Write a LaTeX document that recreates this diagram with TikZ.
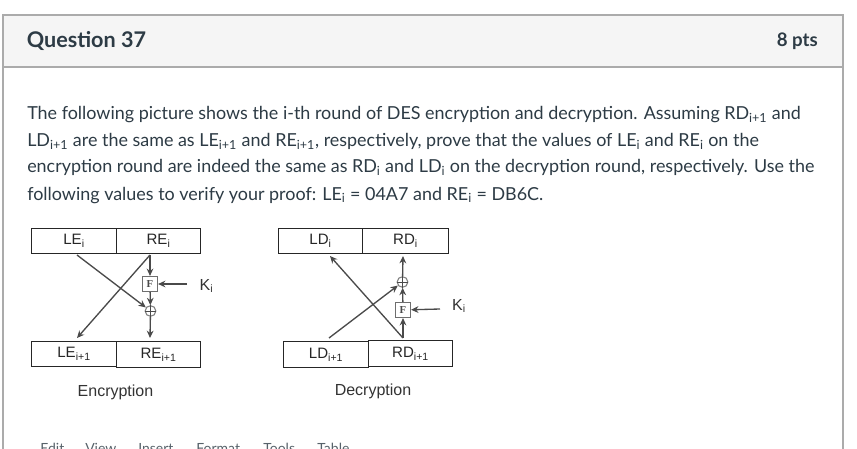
\documentclass[tikz,border=0pt]{standalone}
\usepackage{fontspec}
\setmainfont{Lato}
\newfontfamily\arialf{Liberation Sans}
\newfontfamily\timesf{Liberation Serif}
\usetikzlibrary{arrows.meta}
\definecolor{ink}{HTML}{2D3B45}
\definecolor{hdr}{HTML}{F5F5F5}
\definecolor{frm}{HTML}{ABABAB}
\definecolor{dia}{HTML}{4A4A4A}
\newcommand{\sbs}[1]{\textsubscript{#1}}
\tikzset{
  x=0.75pt,y=-0.75pt,
  body/.style={anchor=base west,inner sep=0pt,text=ink,font=\fontsize{13.45pt}{16pt}\selectfont},
  cell/.style={draw=black!85,line width=0.85pt,inner sep=0pt,anchor=north west,text=black!85,font=\arialf\fontsize{11.3pt}{13pt}\selectfont},
  captext/.style={inner sep=0pt,text=black!80,font=\arialf\fontsize{12pt}{14pt}\selectfont},
  fbox/.style={draw=dia!80,fill=white,line width=1.1pt,minimum size=11pt,inner sep=0pt,font=\timesf\bfseries\fontsize{8pt}{9pt}\selectfont,text=dia},
  xorn/.style={circle,draw=dia!70,fill=white,line width=0.8pt,minimum size=8pt,inner sep=0pt},
  conn/.style={draw=dia,line width=1pt,-{Stealth[length=5.5pt,width=5pt]}}
}
\newcommand{\xcell}[6]{\node[cell,minimum width=#4*0.75pt,minimum height=#5*0.75pt] (#1) at (#2,#3) {#6};}
\begin{document}
\begin{tikzpicture}
\useasboundingbox (0,0) rectangle (857,449);
\clip (0,0) rectangle (857,449);
\fill[white] (0,0) rectangle (857,449);
\fill[hdr] (3,15) rectangle (843,67);
\draw[frm,line width=0.8pt] (3,449) -- (3,15) -- (843,15) -- (843,449);
\draw[frm,line width=0.8pt] (3,67) -- (843,67);
\node[anchor=base west,inner sep=0pt,text=ink,font=\bfseries\fontsize{16.2pt}{20pt}\selectfont] (title) at (26.5,48) {Question 37};
\node[anchor=base east,inner sep=0pt,text=ink,font=\bfseries\fontsize{14pt}{16pt}\selectfont] (pts) at (818,47) {8 pts};
\node[body] (l1) at (27,119.5) {The following picture shows the i-th round of DES encryption and decryption. Assuming RD\sbs{i+1} and};
\node[body] (l2) at (27,146.5) {LD\sbs{i+1} are the same as LE\sbs{i+1} and RE\sbs{i+1}, respectively, prove that the values of LE\sbs{i} and RE\sbs{i} on the};
\node[body] (l3) at (27,173) {encryption round are indeed the same as RD\sbs{i} and LD\sbs{i} on the decryption round, respectively. Use the};
\node[body] (l4) at (27,200) {following values to verify your proof: LE\sbs{i} = 04A7 and RE\sbs{i} = DB6C.};
% Encryption
\xcell{le}{31}{228}{85}{25}{LE\sbs{i}}
\xcell{re}{116}{228}{84}{25}{RE\sbs{i}}
\xcell{lea}{31}{341}{85}{25}{LE\sbs{i+1}}
\xcell{rea}{116}{341}{84}{26}{RE\sbs{i+1}}
\node[fbox] (fe) at (150,284) {F};
\node[xorn] (xe) at (150.5,311) {};
\draw[line width=0.5pt,draw=dia] (xe.north) -- (xe.south) (xe.west) -- (xe.east);
\coordinate (es) at (150,255);
\coordinate (el) at (77,255);
\coordinate (er) at (150,338);
\coordinate (ell) at (77,338);
\coordinate (ek) at (187,284);
\draw[conn] (es) -- (fe);
\draw[conn] (fe) -- (xe);
\draw[conn] (xe) -- (er);
\draw[conn] (el) -- (xe);
\draw[conn] (es) -- (ell);
\draw[conn] (ek) -- (fe);
\node[captext] (ke) at (206.5,286) {K\sbs{i}};
\node[captext] (ce) at (115.5,392) {Encryption};
% Decryption
\xcell{ld}{278}{228}{84}{25}{LD\sbs{i}}
\xcell{rd}{362}{228}{86}{25}{RD\sbs{i}}
\xcell{lda}{283}{341}{85}{26}{LD\sbs{i+1}}
\xcell{rda}{368}{340}{84}{26}{RD\sbs{i+1}}
\node[fbox] (fd) at (403,310) {F};
\node[xorn] (xd) at (402.5,282) {};
\draw[line width=0.5pt,draw=dia] (xd.north) -- (xd.south) (xd.west) -- (xd.east);
\coordinate (ds) at (403,338);
\coordinate (dt) at (403,256);
\coordinate (dtl) at (330,256);
\coordinate (dl) at (329,338);
\coordinate (dk) at (440,309);
\draw[conn] (ds) -- (fd);
\draw[conn] (fd) -- (xd);
\draw[conn] (xd) -- (dt);
\draw[conn] (ds) -- (dtl);
\draw[conn] (dl) -- (xd);
\draw[conn] (dk) -- (fd);
\node[captext] (kd) at (459,306) {K\sbs{i}};
\node[captext] (cd) at (373,391.5) {Decryption};
% clipped toolbar
\foreach \t/\px/\nm in {Edit/40/m1,View/85/m2,Insert/138/m3,Format/196/m4,Tools/263/m5,Table/317/m6}
  \node[anchor=base west,inner sep=0pt,text=ink!80,font=\fontsize{10.5pt}{12pt}\selectfont] (\nm) at (\px,453) {\t};
\end{tikzpicture}
\end{document}
